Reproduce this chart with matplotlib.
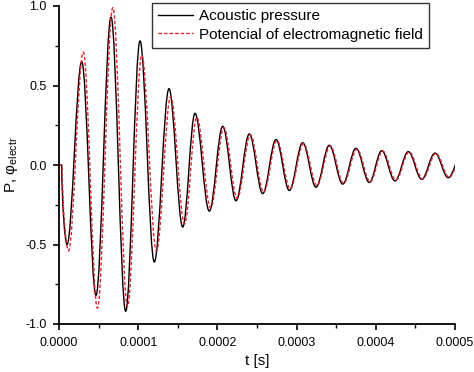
import matplotlib
matplotlib.use("Agg")
from matplotlib import pyplot as plt
from matplotlib.path import Path
from matplotlib.patches import PathPatch
from matplotlib.lines import Line2D
from matplotlib.ticker import MultipleLocator, FormatStrFormatter

plt.rcParams['font.family'] = ['Liberation Sans', 'DejaVu Sans']
plt.rcParams['axes.unicode_minus'] = False

# turning points of both traces, time in units of 1e-5 s
t_pressure = [0.0, 0.34, 1.01, 2.87, 4.67, 6.57, 8.42, 10.23, 12.03, 13.89, 15.62,
              17.17, 18.98, 20.67, 22.35, 24.03, 25.72, 27.40, 29.08, 30.77, 32.45,
              34.13, 35.82, 37.50, 39.18, 40.75, 42.42, 44.10, 45.80, 47.47, 49.15, 50.85]
p_pressure = [0.0, 0.0, -0.50, 0.65, -0.82, 0.93, -0.92, 0.78, -0.61, 0.48, -0.39,
              0.325, -0.29, 0.243, -0.225, 0.195, -0.18, 0.16, -0.16, 0.14, -0.14,
              0.124, -0.12, 0.105, -0.11, 0.09, -0.10, 0.084, -0.09, 0.075, -0.08, 0.07]

t_potential = [0.0, 0.40, 1.20, 3.07, 4.85, 6.80, 8.65, 10.45, 12.30, 14.10, 15.85,
               17.40, 19.15, 20.82, 22.50, 24.17, 25.85, 27.52, 29.20, 30.88, 32.57,
               34.25, 35.93, 37.62, 39.30, 40.87, 42.54, 44.22, 45.92, 47.59, 49.27, 50.97]
p_potential = [0.0, 0.0, -0.54, 0.71, -0.90, 0.99, -0.89, 0.69, -0.54, 0.43, -0.37,
               0.30, -0.27, 0.235, -0.21, 0.19, -0.17, 0.155, -0.15, 0.135, -0.13,
               0.12, -0.115, 0.10, -0.105, 0.088, -0.095, 0.082, -0.088, 0.073, -0.078, 0.07]


def wave_path(t, v, scale=1e-5):
    # smooth bezier arcs between neighbouring turning points
    verts = [(t[0] * scale, v[0])]
    codes = [Path.MOVETO]
    for i in range(1, len(t)):
        t0, t1 = t[i - 1] * scale, t[i] * scale
        y0, y1 = v[i - 1], v[i]
        dt = t1 - t0
        if y0 == y1:
            verts.append((t1, y1))
            codes.append(Path.LINETO)
            continue
        if i == 2:
            c1 = (t0 + 0.05 * dt, y0 + 0.5 * (y1 - y0))  # steep onset
        else:
            c1 = (t0 + 0.36 * dt, y0)
        c2 = (t1 - 0.36 * dt, y1)
        verts += [c1, c2, (t1, y1)]
        codes += [Path.CURVE4] * 3
    return Path(verts, codes)


red = '#e8202a'
fig = plt.figure(figsize=(4.74, 3.72), dpi=100)
ax = fig.add_axes([59 / 474, 48 / 372, 396 / 474, 318 / 372])

ax.add_patch(PathPatch(wave_path(t_pressure, p_pressure), fill=False,
                       edgecolor='black', lw=1.0))
ax.add_patch(PathPatch(wave_path(t_potential, p_potential), fill=False,
                       edgecolor=red, lw=1.0, linestyle=(0, (2.5, 1.5))))

ax.set_xlim(0, 0.0005)
ax.set_ylim(-1.0, 1.0)
ax.xaxis.set_major_locator(MultipleLocator(0.0001))
ax.xaxis.set_minor_locator(MultipleLocator(0.00005))
ax.yaxis.set_major_locator(MultipleLocator(0.5))
ax.yaxis.set_minor_locator(MultipleLocator(0.25))
ax.xaxis.set_major_formatter(FormatStrFormatter('%.4f'))
ax.yaxis.set_major_formatter(FormatStrFormatter('%.1f'))

for s in ['top', 'right']:
    ax.spines[s].set_visible(False)
for s in ['left', 'bottom']:
    ax.spines[s].set_linewidth(1.3)
ax.tick_params(which='major', direction='out', length=4, width=1.2, labelsize=9, pad=5)
ax.tick_params(which='minor', direction='out', length=3, width=1.0)

ax.set_xlabel('t [s]', fontsize=11, labelpad=4)
ax.set_ylabel('P, φ$_\\mathregular{electr}$', fontsize=11, labelpad=4)

handles = [Line2D([], [], color='black', lw=1.0),
           Line2D([], [], color=red, lw=1.0, linestyle=(0, (2.5, 1.5)))]
leg = fig.legend(handles, ['Acoustic pressure', 'Potencial of electromagnetic field'],
                 loc='upper right', bbox_to_anchor=(429 / 474, 1 - 3 / 372),
                 fontsize=11, fancybox=False, framealpha=1, edgecolor='#333333',
                 handlelength=2.3, handletextpad=0.4, labelspacing=0.3,
                 borderpad=0.4, borderaxespad=0)
leg.get_frame().set_linewidth(1.0)

fig.savefig('out.png', dpi=100)
